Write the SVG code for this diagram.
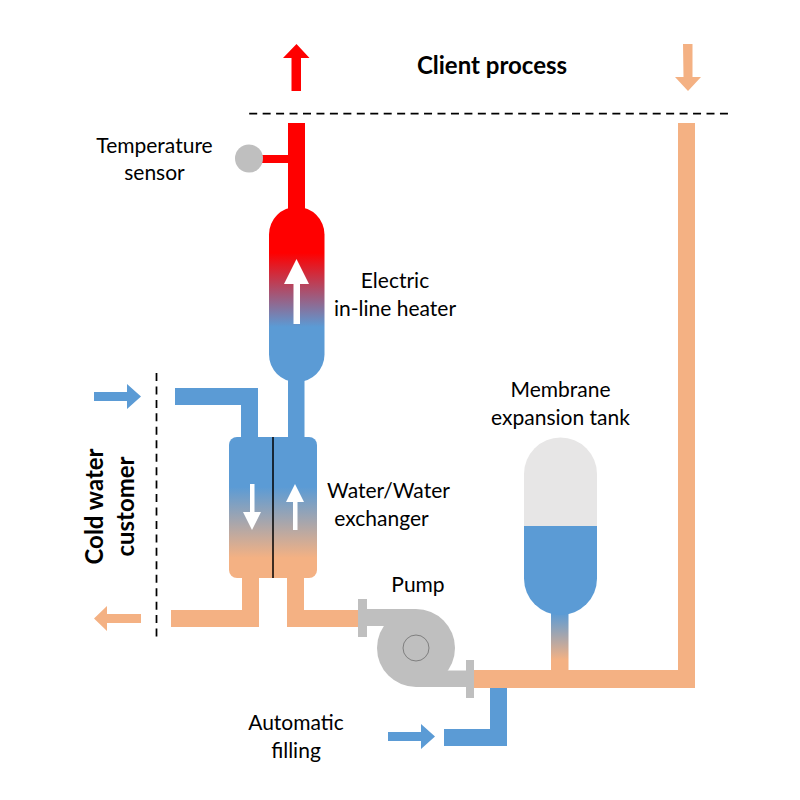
<svg xmlns="http://www.w3.org/2000/svg" width="800" height="800" viewBox="0 0 800 800">
<style>
text{font-family:Lato,"Open Sans","Liberation Sans",sans-serif;font-size:21px;fill:#000;text-anchor:middle}
.b{font-weight:700;font-size:24px}
.blue{fill:#5B9BD5}.peach{fill:#F4B183}.red{fill:#F00}.gray{fill:#BFBFBF}.white{fill:#fff}
.dash{fill:none;stroke:#000;stroke-width:1.750;stroke-dasharray:8 5.450}
</style>
<defs>
<linearGradient id="gh" gradientUnits="userSpaceOnUse" x1="0" y1="253" x2="0" y2="327"><stop offset="0" stop-color="#F00"/><stop offset="1" stop-color="#5B9BD5"/></linearGradient>
<linearGradient id="gx" gradientUnits="userSpaceOnUse" x1="0" y1="487" x2="0" y2="558"><stop offset="0" stop-color="#5B9BD5"/><stop offset="1" stop-color="#F4B183"/></linearGradient>
<linearGradient id="gs" gradientUnits="userSpaceOnUse" x1="0" y1="613" x2="0" y2="660"><stop offset="0" stop-color="#5B9BD5"/><stop offset="1" stop-color="#F4B183"/></linearGradient>
</defs>
<g id="connectors">
<path class="dash" d="M249.200 113.500H728"/>
<path class="dash" d="M156.500 373V642"/>
<path class="red" d="M288 123h17v90h-17zM255 155h33v8h-33z"/>
<path class="blue" d="M288 378h16.500v60H288zM175 388h83v50h-17V405h-66z"/>
<path class="peach" d="M242 577h17v50h-88V610h71zM287 577h17v33h55v17h-72z"/>
<path class="peach" d="M678 123h17v565H473V670h205z"/>
<path class="blue" d="M490 688h17v58h-63V729h46z"/>
<rect x="551" y="610" width="17.500" height="60.500" fill="url(#gs)"/>
<path class="red" d="M296.500 44l13 14h-8.500v33h-9.500V58H283z"/>
<path class="peach" d="M683 44h9.500v33h8.500l-13 14-13-14h8.500z"/>
<path class="blue" d="M94 392h33v-8l14 12.500-14 12.500v-8h-33z"/>
<path class="peach" d="M141 614h-34v-8l-13 12.500 13 12.500v-8h34z"/>
<path class="blue" d="M388 732h33v-8l14 12.500-14 12.500v-8h-33z"/>
</g>
<g id="temperature-sensor">
<circle class="gray" cx="249" cy="158.500" r="14"/>
<text x="154.500" y="153">Temperature</text>
<text x="154.500" y="180">sensor</text>
</g>
<g id="heater">
<rect x="269" y="207" width="55.500" height="175" rx="27.500" ry="27.500" fill="url(#gh)"/>
<path class="white" d="M296.500 259l12.500 25h-9v40h-6.500V284H284z"/>
<text x="395" y="288">Electric</text>
<text x="395" y="316">in-line heater</text>
</g>
<g id="exchanger">
<rect x="229" y="437" width="88" height="141" rx="8" ry="8" fill="url(#gx)"/>
<path d="M273 437V578" fill="none" stroke="#000" stroke-width="1.500"/>
<path class="white" d="M250 484h4.500v28h6.500l-9 18-9-18h7z"/>
<path class="white" d="M295 484l9 18h-6.500v28H293V502h-7z"/>
<text x="388.500" y="498">Water/Water</text>
<text x="381.500" y="526">exchanger</text>
</g>
<g id="pump">
<circle class="gray" cx="416" cy="648" r="39"/>
<rect class="gray" x="367" y="609" width="49" height="17"/>
<rect class="gray" x="416" y="670.500" width="50" height="16.500"/>
<rect class="gray" x="358" y="599" width="9" height="38"/>
<rect class="gray" x="466" y="660" width="8" height="38"/>
<circle cx="416" cy="648" r="13" fill="none" stroke="#7F7F7F" stroke-width="1"/>
<text x="418" y="592">Pump</text>
</g>
<g id="tank">
<path d="M524 526V474a36.500 36.500 0 0 1 73 0v52z" fill="#E7E6E6"/>
<path class="blue" d="M524 526h73v52.500a36.500 36.500 0 0 1-73 0z"/>
<text x="560.500" y="397">Membrane</text>
<text x="560.500" y="425">expansion tank</text>
</g>
<g id="labels">
<text class="b" x="492" y="74">Client process</text>
<text class="b" transform="translate(103 506.500) rotate(-90)">Cold water</text>
<text class="b" transform="translate(134 506.500) rotate(-90)">customer</text>
<text x="296" y="730">Automatic</text>
<text x="296" y="758">filling</text>
</g>
</svg>
